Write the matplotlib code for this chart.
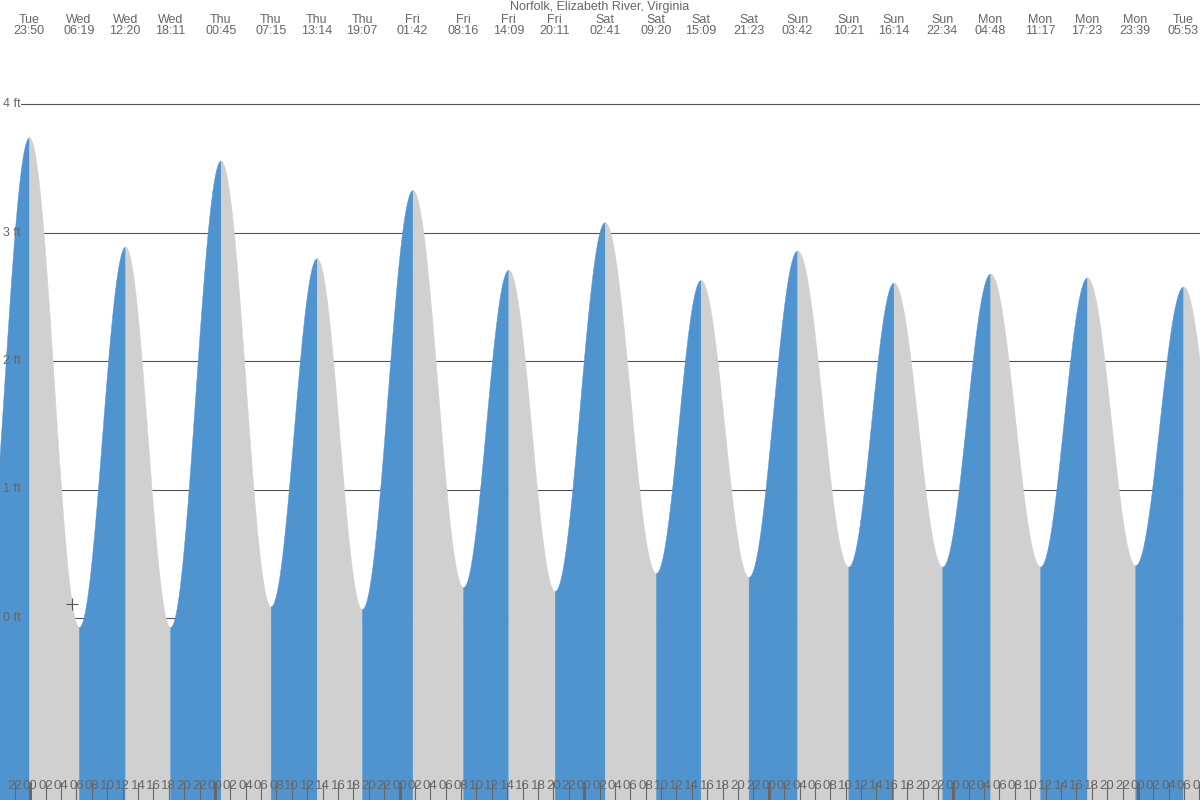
import numpy as np
import matplotlib
matplotlib.use('Agg')
import matplotlib.pyplot as plt
import matplotlib.transforms as mtransforms
from matplotlib.ticker import FixedLocator, FuncFormatter

plt.rcParams['font.family'] = ['Liberation Sans', 'DejaVu Sans']

title = 'Norfolk, Elizabeth River, Virginia'

# tide extremes (first and last are just off the chart)
tide_days = ['Tue', 'Tue', 'Wed', 'Wed', 'Wed', 'Thu', 'Thu', 'Thu', 'Thu',
             'Fri', 'Fri', 'Fri', 'Fri', 'Sat', 'Sat', 'Sat', 'Sat',
             'Sun', 'Sun', 'Sun', 'Sun', 'Mon', 'Mon', 'Mon', 'Mon', 'Tue', 'Tue']
tide_times = ['17:25', '23:50', '06:19', '12:20', '18:11', '00:45', '07:15', '13:14', '19:07',
              '01:42', '08:16', '14:09', '20:11', '02:41', '09:20', '15:09', '21:23',
              '03:42', '10:21', '16:14', '22:34', '04:48', '11:17', '17:23', '23:39', '05:53', '12:05']
tide_heights = [-0.08, 3.74, -0.07, 2.89, -0.07, 3.56, 0.09, 2.80, 0.07,
                3.33, 0.24, 2.71, 0.21, 3.08, 0.35, 2.63, 0.32,
                2.86, 0.40, 2.61, 0.40, 2.68, 0.40, 2.65, 0.41, 2.58, 0.42]

now_time = '05:25'   # on Wed

y_ticks = [0, 1, 2, 3, 4]

blue = '#4f94cf'
grey = '#d0d0d0'
text_col = '#666666'


def clock(t):
    hh, mm = t.split(':')
    return int(hh) + int(mm) / 60.0


def to_hours(days, times):
    # hours from Wed 00:00, day counter steps when the name changes
    out = []
    day_idx = -1
    prev = days[0]
    for d, t in zip(days, times):
        if d != prev:
            day_idx += 1
            prev = d
        out.append(day_idx * 24 + clock(t))
    return np.array(out)


hours = to_hours(tide_days, tide_times)
heights = np.array(tide_heights)

fig = plt.figure(figsize=(12, 8), dpi=100)
ax = fig.add_axes([0, 0, 1, 1])

px_per_hour = 7.692
px_per_ft = 128.5
x0 = -30.3 / px_per_hour
x1 = x0 + 1200 / px_per_hour
ax.set_xlim(x0, x1)
ax.set_ylim(-(800 - 618) / px_per_ft, 618 / px_per_ft)
ybot = ax.get_ylim()[0]

# curve segments between extremes, blue rising, grey falling
curve_t = []
curve_h = []
for i in range(len(hours) - 1):
    t = np.linspace(hours[i], hours[i + 1], 80)
    f = (1 - np.cos(np.pi * (t - hours[i]) / (hours[i + 1] - hours[i]))) / 2
    h = heights[i] + (heights[i + 1] - heights[i]) * f
    col = blue if heights[i + 1] > heights[i] else grey
    ax.fill_between(t, ybot, h, color=col, lw=0.3, ec=col, zorder=1)
    curve_t.append(t)
    curve_h.append(h)
curve_t = np.concatenate(curve_t)
curve_h = np.concatenate(curve_h)

# gridlines behind the fill
for y in y_ticks:
    ax.axhline(y, xmin=21 / 1200, xmax=1, color='#555555', lw=0.8, zorder=0)
    ax.text(3 / 1200, y, '%d ft' % y, transform=ax.get_yaxis_transform(),
            ha='left', va='center', fontsize=9, color=text_col, zorder=3)

# now marker
now_h = clock(now_time)
ax.plot([now_h], [np.interp(now_h, curve_t, curve_h)], marker='+', ms=8,
        mew=0.8, color='#555555', zorder=4)

# hour ticks along the bottom
all_even = np.arange(-24, 170, 2)
ax.xaxis.set_major_locator(FixedLocator(all_even[all_even % 24 == 0]))
ax.xaxis.set_minor_locator(FixedLocator(all_even[all_even % 24 != 0]))
fmt = FuncFormatter(lambda v, p: '%02d' % (int(round(v)) % 24))
ax.xaxis.set_major_formatter(fmt)
ax.xaxis.set_minor_formatter(fmt)
ax.tick_params(axis='x', which='both', direction='in', length=13, colors=text_col,
               labelsize=9.5, pad=-10)
ax.tick_params(axis='x', which='major', width=2.2)
ax.tick_params(axis='x', which='minor', width=0.8)
for lbl in ax.get_xticklabels(which='both'):
    lbl.set_va('center')
ax.set_yticks([])
for s in ax.spines.values():
    s.set_visible(False)

# extreme labels across the top, only those on the chart
trans = mtransforms.blended_transform_factory(ax.transData, ax.transAxes)
for d, tm, hr in zip(tide_days, tide_times, hours):
    if hr < x0 or hr > x1:
        continue
    ax.text(hr, 1 - 20 / 800, d, transform=trans, ha='center', va='center',
            fontsize=9, color=text_col)
    ax.text(hr, 1 - 31 / 800, tm, transform=trans, ha='center', va='center',
            fontsize=9, color=text_col)

fig.text(0.5, 1 - 7 / 800, title, ha='center', va='center', fontsize=9, color=text_col)

fig.savefig('out.png', dpi=100)
